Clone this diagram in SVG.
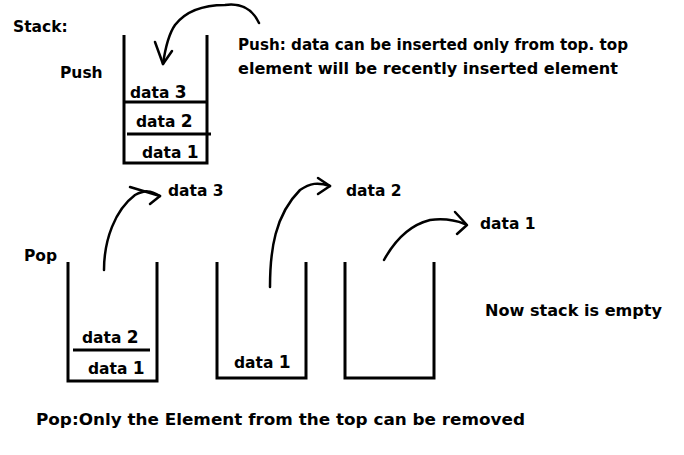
<svg xmlns="http://www.w3.org/2000/svg" width="684" height="455" viewBox="0 0 684 455">
<style>
text{font-family:"DejaVu Sans",Verdana,sans-serif;font-weight:bold;font-size:15.5px;fill:#000}
.n{font-size:17px}
.s{fill:none;stroke:#000;stroke-width:3}
.c{fill:none;stroke:#000;stroke-width:2.5;stroke-linecap:round;stroke-linejoin:round}
</style>
<rect width="684" height="455" fill="#fff"/>
<text x="13" y="32">Stack:</text>
<text x="60" y="78">Push</text>
<text x="238" y="50" textLength="390" lengthAdjust="spacingAndGlyphs">Push: data can be inserted only from top. top</text>
<text x="238" y="74" textLength="380" lengthAdjust="spacingAndGlyphs">element will be recently inserted element</text>
<text x="24" y="261">Pop</text>
<text x="485" y="316" textLength="177" lengthAdjust="spacingAndGlyphs">Now stack is empty</text>
<text x="36" y="425" textLength="489" lengthAdjust="spacingAndGlyphs">Pop:Only the Element from the top can be removed</text>
<g id="stack-push">
<path class="s" d="M124,35V163H207V35"/>
<path class="s" d="M124,102H207M127,134H211"/>
<text x="130" y="98">data <tspan class="n">3</tspan></text>
<text x="136" y="127">data <tspan class="n">2</tspan></text>
<text x="142" y="158">data <tspan class="n">1</tspan></text>
</g>
<g id="stack-pop1">
<path class="s" d="M68,262V381H157V262"/>
<path class="s" d="M73,350H150"/>
<text x="82" y="343">data <tspan class="n">2</tspan></text>
<text x="88" y="374">data <tspan class="n">1</tspan></text>
<text x="168" y="196">data 3</text>
</g>
<g id="stack-pop2">
<path class="s" d="M217,262V378H306V262"/>
<text x="234" y="368">data <tspan class="n">1</tspan></text>
<text x="346" y="196">data 2</text>
</g>
<g id="stack-pop3">
<path class="s" d="M345,262V378H434V262"/>
<text x="480" y="229">data 1</text>
</g>
<g id="connectors">
<path class="c" d="M259,23C252,8 240,3 225,5C200,5 185,12 175,25C168,35 165,50 163,64"/>
<path class="c" d="M155,42L163,64L172,51"/>
<path class="c" d="M104,270C104,240 115,210 135,195C145,190 150,190 160,196"/>
<path class="c" d="M130,187L160,196L150,204"/>
<path class="c" d="M270,287C270,250 275,215 300,190C310,183 318,182 330,186"/>
<path class="c" d="M318,178L330,186L318,194"/>
<path class="c" d="M384,260C395,240 410,225 430,220C445,218 455,220 465,224"/>
<path class="c" d="M455,212L467,225L457,234"/>
</g>
</svg>
